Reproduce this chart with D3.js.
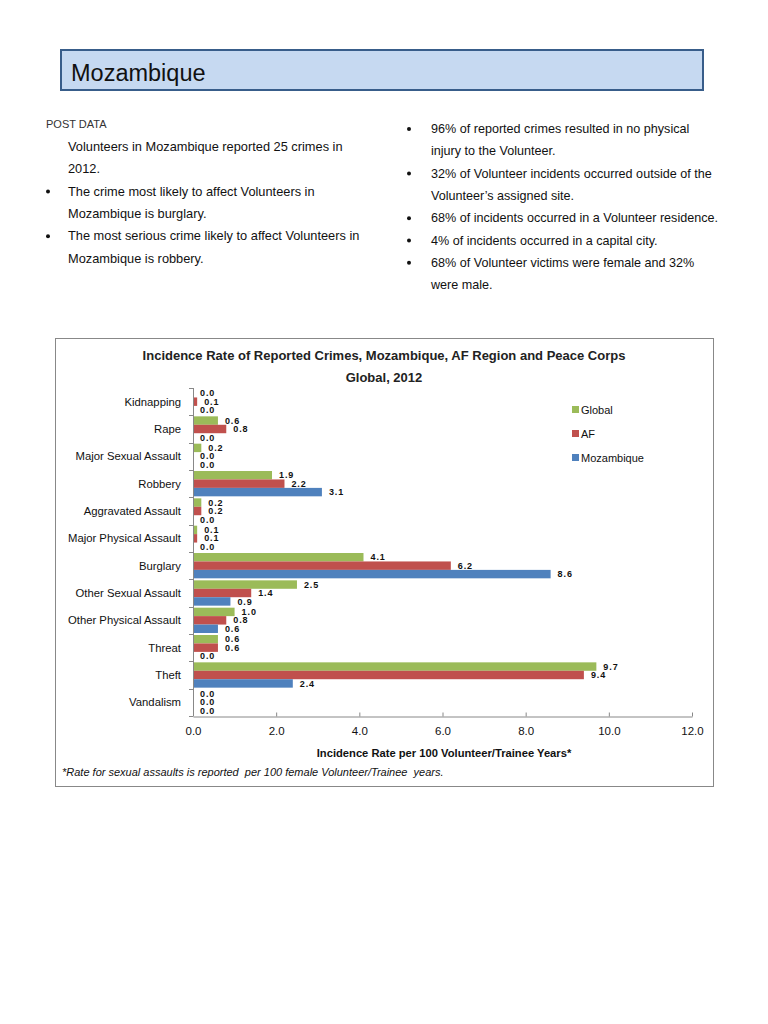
<!DOCTYPE html>
<html lang="en">
<head>
<meta charset="UTF-8">
<title>Mozambique</title>
<script src="https://cdn.jsdelivr.net/npm/d3@7"></script>
<style>
  body { margin: 0; background: #fff; }
  svg text { font-family: "Liberation Sans Narrow", "Arial Narrow", "Liberation Sans", sans-serif; }
</style>
</head>
<body>
<div id="vis"></div>
<script>
// chart data
const categories = ['Kidnapping', 'Rape', 'Major Sexual Assault', 'Robbery', 'Aggravated Assault',
  'Major Physical Assault', 'Burglary', 'Other Sexual Assault', 'Other Physical Assault',
  'Threat', 'Theft', 'Vandalism'];
const seriesNames = ['Global', 'AF', 'Mozambique'];
const globalValues = [0.0, 0.6, 0.2, 1.9, 0.2, 0.1, 4.1, 2.5, 1.0, 0.6, 9.7, 0.0];
const afValues = [0.1, 0.8, 0.0, 2.2, 0.2, 0.1, 6.2, 1.4, 0.8, 0.6, 9.4, 0.0];
const mozValues = [0.0, 0.0, 0.0, 3.1, 0.0, 0.0, 8.6, 0.9, 0.6, 0.0, 2.4, 0.0];
const xTicks = [0, 2, 4, 6, 8, 10, 12];

const leftText = [
  'Volunteers in Mozambique reported 25 crimes in',
  '2012.',
  'The crime most likely to affect Volunteers in',
  'Mozambique is burglary.',
  'The most serious crime likely to affect Volunteers in',
  'Mozambique is robbery.'
];
const leftBullets = [false, false, true, false, true, false];
const rightText = [
  '96% of reported crimes resulted in no physical',
  'injury to the Volunteer.',
  '32% of Volunteer incidents occurred outside of the',
  'Volunteer\u2019s assigned site.',
  '68% of incidents occurred in a Volunteer residence.',
  '4% of incidents occurred in a capital city.',
  '68% of Volunteer victims were female and 32%',
  'were male.'
];
const rightBullets = [true, false, true, false, true, true, true, false];

const colours = { Global: '#9bbb59', AF: '#c0504d', Mozambique: '#4f81bd' };
const seriesValues = { Global: globalValues, AF: afValues, Mozambique: mozValues };

const width = 768, height = 1024;
const svg = d3.select('#vis').append('svg')
  .attr('width', width).attr('height', height);

svg.append('rect').attr('width', width).attr('height', height).attr('fill', '#fff');

// header box
svg.append('rect')
  .attr('x', 61).attr('y', 50).attr('width', 642).attr('height', 40)
  .attr('fill', '#c6d9f1').attr('stroke', '#385d8a').attr('stroke-width', 2);
svg.append('text')
  .attr('x', 71).attr('y', 81)
  .style('font-size', '23.5px').attr('fill', '#111')
  .text('Mozambique');

// post data text
svg.append('text')
  .attr('x', 46).attr('y', 128)
  .style('font-size', '11px').attr('fill', '#333')
  .text('POST DATA');

leftText.forEach((t, i) => {
  const y = 151 + i * 22.3;
  if (leftBullets[i]) {
    svg.append('circle').attr('cx', 48).attr('cy', y - 4).attr('r', 2).attr('fill', '#111');
  }
  svg.append('text').attr('x', 68).attr('y', y)
    .style('font-size', '12.8px').attr('fill', '#111').text(t);
});
rightText.forEach((t, i) => {
  const y = 133 + i * 22.3;
  if (rightBullets[i]) {
    svg.append('circle').attr('cx', 409).attr('cy', y - 4).attr('r', 2).attr('fill', '#111');
  }
  svg.append('text').attr('x', 431).attr('y', y)
    .style('font-size', '12.6px').attr('fill', '#111').text(t);
});

// chart frame
svg.append('rect')
  .attr('x', 55.5).attr('y', 338.5).attr('width', 658).attr('height', 448)
  .attr('fill', '#fff').attr('stroke', '#888').attr('stroke-width', 1);

svg.append('text')
  .attr('x', 384).attr('y', 360).attr('text-anchor', 'middle')
  .style('font-size', '13px').style('font-weight', 'bold').attr('fill', '#222')
  .text('Incidence Rate of Reported Crimes, Mozambique, AF Region and Peace Corps');
svg.append('text')
  .attr('x', 384).attr('y', 382).attr('text-anchor', 'middle')
  .style('font-size', '13px').style('font-weight', 'bold').attr('fill', '#222')
  .text('Global, 2012');

// scales
const x = d3.scaleLinear().domain([0, 12]).range([193, 692]);
const y = d3.scaleBand().domain(categories).range([388, 716]);
const ySub = d3.scaleBand().domain(seriesNames).range([0, y.bandwidth()]).paddingOuter(0.12);

// bars
const groups = svg.selectAll('.cat')
  .data(categories)
  .enter().append('g')
  .attr('transform', d => `translate(0,${y(d)})`);

seriesNames.forEach(s => {
  groups.append('rect')
    .attr('x', x(0))
    .attr('y', ySub(s))
    .attr('width', (d, i) => x(seriesValues[s][i]) - x(0))
    .attr('height', ySub.bandwidth())
    .attr('fill', colours[s]);

  groups.append('text')
    .attr('x', (d, i) => x(seriesValues[s][i]) + 7)
    .attr('y', ySub(s) + ySub.bandwidth() / 2)
    .attr('dy', '0.35em')
    .style('font-size', '9px').style('font-weight', 'bold').style('letter-spacing', '0.9px')
    .attr('fill', '#111')
    .text((d, i) => seriesValues[s][i].toFixed(1));
});

// category axis
const yAxis = svg.append('g');
yAxis.append('line')
  .attr('x1', x(0) + 0.5).attr('x2', x(0) + 0.5)
  .attr('y1', y.range()[0]).attr('y2', y.range()[1])
  .attr('stroke', '#888');
yAxis.selectAll('.tk')
  .data(categories.map(c => y(c)).concat([y.range()[1]]))
  .enter().append('line')
  .attr('x1', x(0) - 4).attr('x2', x(0))
  .attr('y1', d => Math.round(d) + 0.5).attr('y2', d => Math.round(d) + 0.5)
  .attr('stroke', '#888');
yAxis.selectAll('.lbl')
  .data(categories)
  .enter().append('text')
  .attr('x', 181)
  .attr('y', d => y(d) + y.bandwidth() / 2)
  .attr('dy', '0.35em')
  .attr('text-anchor', 'end')
  .style('font-size', '11.3px').attr('fill', '#111')
  .text(d => d);

// value axis
const xAxis = svg.append('g')
  .attr('transform', `translate(0,${y.range()[1] + 0.5})`)
  .call(d3.axisBottom(x).tickValues(xTicks).tickFormat(d3.format('.1f')).tickSizeInner(-4).tickSizeOuter(0).tickPadding(10));
xAxis.select('.domain').attr('stroke', '#888');
xAxis.selectAll('.tick line').attr('stroke', '#888');
xAxis.selectAll('.tick text')
  .style('font-size', '11.5px').attr('fill', '#111')
  .style('font-family', '"Liberation Sans Narrow", "Arial Narrow", "Liberation Sans", sans-serif');

svg.append('text')
  .attr('x', 444).attr('y', 757).attr('text-anchor', 'middle')
  .style('font-size', '11.2px').style('font-weight', 'bold').attr('fill', '#111')
  .text('Incidence Rate per 100 Volunteer/Trainee Years*');

svg.append('text')
  .attr('x', 62).attr('y', 776)
  .attr('xml:space', 'preserve').style('white-space', 'pre')
  .style('font-size', '11px').style('font-style', 'italic').attr('fill', '#111')
  .text('*Rate for sexual assaults is reported  per 100 female Volunteer/Trainee  years.');

// legend
const legend = svg.append('g');
seriesNames.forEach((s, i) => {
  legend.append('rect')
    .attr('x', 572).attr('y', 406 + i * 24).attr('width', 7).attr('height', 7)
    .attr('fill', colours[s]);
  legend.append('text')
    .attr('x', 581).attr('y', 410 + i * 24).attr('dy', '0.35em')
    .style('font-size', '11px').attr('fill', '#111')
    .text(s);
});
</script>
</body>
</html>
